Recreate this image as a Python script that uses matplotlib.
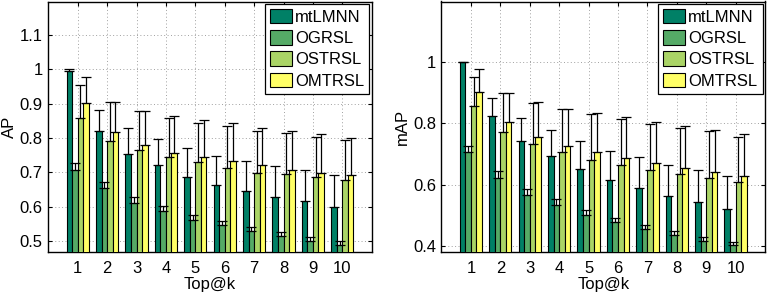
import matplotlib
matplotlib.use("Agg")
import matplotlib.pyplot as plt
import numpy as np

plt.rcParams['font.family'] = ['Liberation Sans', 'DejaVu Sans']

k = [1, 2, 3, 4, 5, 6, 7, 8, 9, 10]
methods = ["mtLMNN", "OGRSL", "OSTRSL", "OMTRSL"]
colors = ["#008066", "#55aa66", "#aad466", "#ffff66"]

# AP (left)
ap_mtlmnn = [0.994, 0.821, 0.752, 0.720, 0.687, 0.662, 0.645, 0.627, 0.615, 0.598]
ap_ogrsl = [0.707, 0.655, 0.610, 0.586, 0.561, 0.546, 0.528, 0.515, 0.499, 0.488]
ap_ostrsl = [0.857, 0.790, 0.764, 0.745, 0.729, 0.711, 0.699, 0.694, 0.685, 0.677]
ap_omtrsl = [0.901, 0.816, 0.779, 0.757, 0.744, 0.732, 0.720, 0.708, 0.699, 0.691]
ap_err_mtlmnn = [0.006, 0.061, 0.077, 0.077, 0.083, 0.084, 0.089, 0.090, 0.092, 0.093]
ap_err_ogrsl = [0.019, 0.018, 0.019, 0.017, 0.016, 0.011, 0.012, 0.010, 0.013, 0.013]
ap_err_ostrsl = [0.096, 0.114, 0.114, 0.113, 0.113, 0.123, 0.121, 0.119, 0.119, 0.118]
ap_err_omtrsl = [0.076, 0.088, 0.099, 0.106, 0.107, 0.110, 0.110, 0.112, 0.111, 0.110]

# mAP (right)
map_mtlmnn = [1.000, 0.825, 0.741, 0.692, 0.650, 0.614, 0.588, 0.562, 0.542, 0.522]
map_ogrsl = [0.707, 0.623, 0.567, 0.533, 0.502, 0.479, 0.456, 0.437, 0.416, 0.404]
map_ostrsl = [0.858, 0.773, 0.733, 0.705, 0.682, 0.663, 0.647, 0.634, 0.621, 0.608]
map_omtrsl = [0.901, 0.806, 0.756, 0.727, 0.706, 0.686, 0.670, 0.654, 0.640, 0.627]
map_err_mtlmnn = [0.002, 0.058, 0.077, 0.085, 0.091, 0.097, 0.101, 0.102, 0.107, 0.107]
map_err_ogrsl = [0.019, 0.021, 0.018, 0.019, 0.015, 0.013, 0.011, 0.011, 0.012, 0.008]
map_err_ostrsl = [0.093, 0.126, 0.134, 0.141, 0.149, 0.150, 0.151, 0.150, 0.153, 0.149]
map_err_omtrsl = [0.076, 0.093, 0.114, 0.119, 0.127, 0.134, 0.133, 0.137, 0.137, 0.138]

W, H = 769, 292
fig = plt.figure(figsize=(W / 100, H / 100), dpi=100)

def draw(ax_rect, vals, errs, ylim, yticks, yticklabels, ylabel):
    ax = fig.add_axes(ax_rect)
    x = np.array(k, dtype=float)
    bw = 0.19
    offs = [-1.5, -0.5, 0.5, 1.5]
    for i, (v, e) in enumerate(zip(vals, errs)):
        xs = x + offs[i] * bw
        ax.bar(xs, v, width=bw, color=colors[i], edgecolor='black',
               linewidth=0.8, label=methods[i], zorder=3)
        ax.errorbar(xs, v, yerr=[np.zeros(len(e)), e], fmt='none',
                    ecolor='black', elinewidth=0.9, capsize=3.3,
                    capthick=0.9, zorder=4)
    ax.set_xlim(0, 11)
    ax.set_ylim(*ylim)
    ax.set_xticks(k)
    ax.set_xticklabels([str(i) for i in k])
    ax.set_yticks(yticks)
    ax.set_yticklabels(yticklabels)
    ax.grid(True, linestyle=(0, (1, 2.5)), color='#a0a0a0', linewidth=0.7, zorder=0)
    ax.set_axisbelow(True)
    ax.tick_params(direction='in', length=3, width=0.8, top=True, right=True,
                   labelsize=12)
    ax.tick_params(axis='x', pad=6.5)
    ax.tick_params(axis='y', pad=4)
    for s in ax.spines.values():
        s.set_linewidth(1.0)
    ax.set_xlabel("Top@k", fontsize=12, labelpad=0.5)
    ax.set_ylabel(ylabel, fontsize=12, labelpad=2)
    leg = ax.legend(loc='upper right', fontsize=12, frameon=True, fancybox=False,
                    edgecolor='black', framealpha=1, borderaxespad=0.15,
                    handlelength=1.3, handleheight=0.95, handletextpad=0.2,
                    labelspacing=0.32, borderpad=0.3)
    leg.get_frame().set_linewidth(0.9)
    return ax

bottom = (H - 252.3) / H
height = (252.3 - 1.5) / H
draw([48.3 / W, bottom, 323.4 / W, height],
     [ap_mtlmnn, ap_ogrsl, ap_ostrsl, ap_omtrsl],
     [ap_err_mtlmnn, ap_err_ogrsl, ap_err_ostrsl, ap_err_omtrsl],
     (0.467, 1.197),
     [0.5, 0.6, 0.7, 0.8, 0.9, 1.0, 1.1],
     ["0.5", "0.6", "0.7", "0.8", "0.9", "1", "1.1"], "AP")
draw([441.5 / W, bottom, 323.5 / W, height],
     [map_mtlmnn, map_ogrsl, map_ostrsl, map_omtrsl],
     [map_err_mtlmnn, map_err_ogrsl, map_err_ostrsl, map_err_omtrsl],
     (0.379, 1.198),
     [0.4, 0.6, 0.8, 1.0],
     ["0.4", "0.6", "0.8", "1"], "mAP")

fig.savefig("out.png", dpi=100)
